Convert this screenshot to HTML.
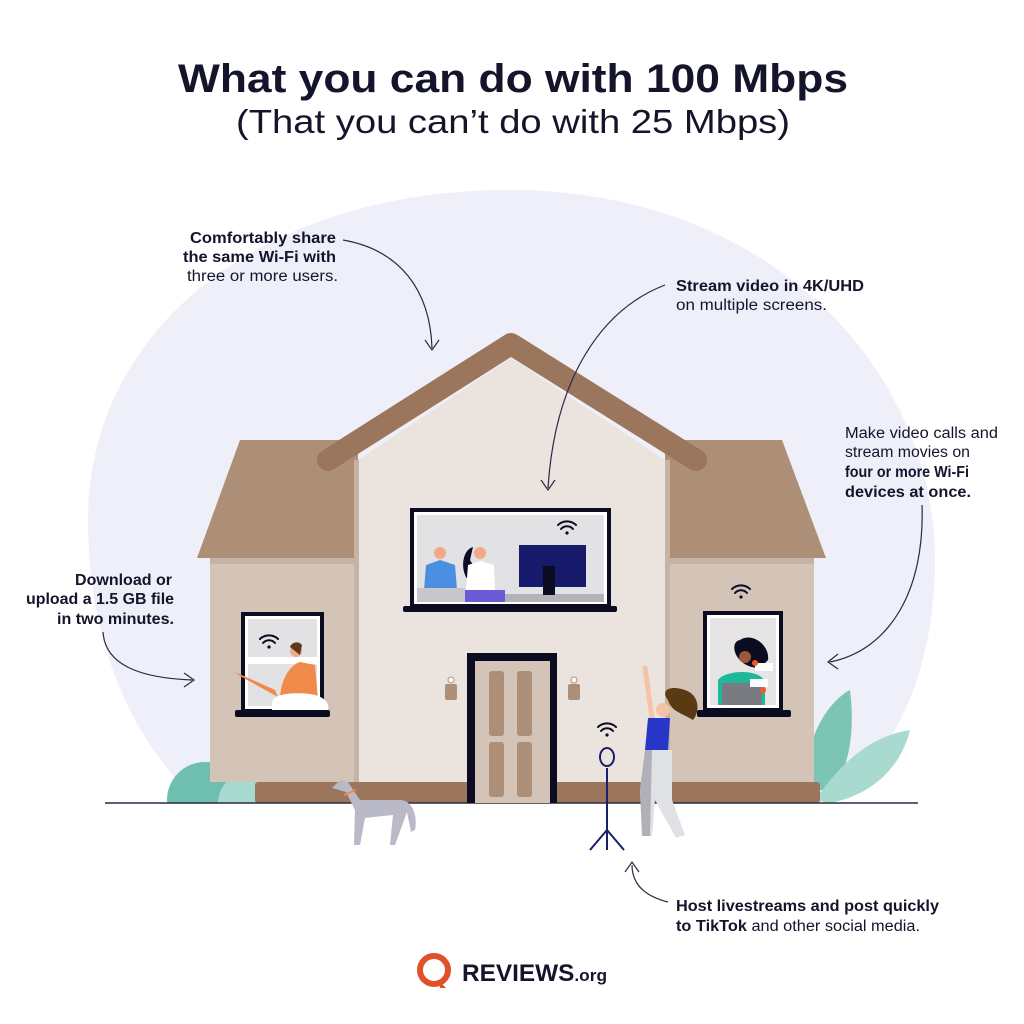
<!DOCTYPE html>
<html><head><meta charset="utf-8"><style>
html,body{margin:0;padding:0;background:#fff}
svg{display:block}
text{font-family:"Liberation Sans",sans-serif;fill:#14142b}
</style></head><body>
<svg width="1024" height="1024" viewBox="0 0 1024 1024" xmlns="http://www.w3.org/2000/svg">
<rect width="1024" height="1024" fill="#fff"/>
<path d="M510 190 C770 190 935 370 935 560 C935 690 880 770 830 803 L200 803 C130 740 88 640 88 520 C88 330 260 190 510 190 Z" fill="#efeffa"/>

<text x="178" y="92" font-size="40" font-weight="bold" textLength="670" lengthAdjust="spacingAndGlyphs">What you can do with 100 Mbps</text>
<text x="236" y="133" font-size="33" textLength="554" lengthAdjust="spacingAndGlyphs">(That you can’t do with 25 Mbps)</text>

<g font-size="15.5">
<text x="190" y="243" font-weight="bold" textLength="146" lengthAdjust="spacingAndGlyphs">Comfortably share</text>
<text x="183" y="262" font-weight="bold" textLength="153" lengthAdjust="spacingAndGlyphs">the same Wi-Fi with</text>
<text x="187" y="281" textLength="151" lengthAdjust="spacingAndGlyphs">three or more users.</text>
<text x="676" y="291" font-weight="bold" textLength="188" lengthAdjust="spacingAndGlyphs">Stream video in 4K/UHD</text>
<text x="676" y="310" textLength="151" lengthAdjust="spacingAndGlyphs">on multiple screens.</text>
<text x="845" y="438" textLength="153" lengthAdjust="spacingAndGlyphs">Make video calls and</text>
<text x="845" y="457" textLength="125" lengthAdjust="spacingAndGlyphs">stream movies on</text>
<text x="845" y="477" font-weight="bold" textLength="124" lengthAdjust="spacingAndGlyphs">four or more Wi-Fi</text>
<text x="845" y="497" font-weight="bold" textLength="126" lengthAdjust="spacingAndGlyphs">devices at once.</text>
<text x="75" y="585" font-weight="bold" textLength="97" lengthAdjust="spacingAndGlyphs">Download or</text>
<text x="26" y="604" font-weight="bold" textLength="148" lengthAdjust="spacingAndGlyphs">upload a 1.5 GB file</text>
<text x="57" y="624" font-weight="bold" textLength="117" lengthAdjust="spacingAndGlyphs">in two minutes.</text>
<text x="676" y="911" font-weight="bold" textLength="263" lengthAdjust="spacingAndGlyphs">Host livestreams and post quickly</text>
<text x="676" y="931" textLength="244" lengthAdjust="spacingAndGlyphs"><tspan font-weight="bold">to TikTok</tspan> and other social media.</text>
</g>

<!-- bushes -->
<path d="M810 790 C800 740 830 700 850 690 C855 730 850 770 830 790 Z" fill="#7cc4b4"/>
<path d="M815 800 C850 750 880 735 910 730 C900 770 870 795 830 803 Z" fill="#a8dad0"/>
<circle cx="205" cy="800" r="38" fill="#6fbfb0"/>
<circle cx="248" cy="803" r="30" fill="#a8dad0"/>
<rect x="160" y="803" width="130" height="50" fill="#fff"/>

<!-- wings -->
<polygon points="240,440 358,440 358,558 197,558" fill="#ad8f78"/>
<polygon points="665,440 782,440 826,558 665,558" fill="#ad8f78"/>
<rect x="210" y="558" width="148" height="224" fill="#d3c4b7"/>
<rect x="665" y="558" width="149" height="224" fill="#d3c4b7"/>
<rect x="210" y="558" width="148" height="6" fill="#c5b3a5"/>
<rect x="665" y="558" width="149" height="6" fill="#c5b3a5"/>
<!-- center -->
<polygon points="358,460 511,358 665,460 665,782 358,782" fill="#ebe3dd"/>
<rect x="354" y="460" width="5" height="322" fill="#c5b3a5"/>
<rect x="665" y="460" width="5" height="322" fill="#c5b3a5"/>
<polyline points="328,460 511,344 696,460" fill="none" stroke="#9b765c" stroke-width="22" stroke-linecap="round" stroke-linejoin="round"/>
<rect x="255" y="782" width="565" height="21" rx="3" fill="#9b765c"/>
<line x1="105" y1="803" x2="918" y2="803" stroke="#2a2a40" stroke-width="1.5"/>

<!-- center window -->
<rect x="410" y="508" width="201" height="99" fill="#0b0b22"/>
<rect x="414" y="512" width="193" height="92" fill="#fff"/>
<rect x="417" y="515" width="187" height="86" fill="#e2e2e4"/>
<rect x="417" y="594" width="187" height="8" fill="#b4b4b8"/>
<rect x="519" y="545" width="67" height="42" fill="#171a6b"/>
<rect x="543" y="566" width="12" height="29" fill="#0b0b22"/>
<path d="M473 547 C462 550 460 570 468 580 L482 580 L470 560 Z" fill="#0b0b22"/>
<circle cx="440" cy="553" r="6" fill="#f2a98a"/>
<path d="M424 590 L426 565 L440 560 L455 565 L457 590 Z" fill="#4a8fe0"/>
<circle cx="480" cy="553" r="6" fill="#f2a98a"/>
<path d="M466 590 L468 565 L481 561 L494 565 L495 590 Z" fill="#fff"/>
<rect x="417" y="588" width="48" height="14" fill="#c8c8cc"/>
<rect x="465" y="590" width="40" height="12" fill="#6b5bd6"/>
<rect x="403" y="606" width="214" height="6" rx="2" fill="#0b0b22"/>
<g fill="none" stroke="#0b0b22" stroke-width="2" stroke-linecap="round"><path d="M558 525 a13 13 0 0 1 18 0"/><path d="M561 529 a8 8 0 0 1 12 0"/></g><circle cx="567" cy="533" r="1.6" fill="#0b0b22"/>

<!-- left window -->
<rect x="241" y="612" width="83" height="101" fill="#0b0b22"/>
<rect x="245" y="616" width="75" height="93" fill="#fff"/>
<rect x="248" y="619" width="69" height="38" fill="#e2e2e4"/>
<rect x="248" y="664" width="69" height="42" fill="#e2e2e4"/>
<path d="M280 700 C280 680 290 665 300 662 L315 665 L318 700 Z" fill="#f08a4b"/>
<path d="M235 672 L275 690 L278 697 L240 676 Z" fill="#f08a4b"/>
<circle cx="296" cy="651" r="6" fill="#f2a98a"/>
<path d="M290 647 a7 7 0 0 1 12 -2 L300 655 Z" fill="#5a3a1a"/>
<path d="M272 704 C272 694 290 692 310 694 C325 696 330 704 328 710 L272 710 Z" fill="#fff"/>
<rect x="235" y="710" width="95" height="7" rx="2" fill="#0b0b22"/>
<g fill="none" stroke="#0b0b22" stroke-width="2" stroke-linecap="round"><path d="M260 639 a13 13 0 0 1 18 0"/><path d="M263 643 a8 8 0 0 1 12 0"/></g><circle cx="269" cy="647" r="1.6" fill="#0b0b22"/>

<!-- right window -->
<rect x="703" y="611" width="80" height="101" fill="#0b0b22"/>
<rect x="707" y="615" width="72" height="93" fill="#fff"/>
<rect x="710" y="618" width="66" height="87" fill="#e6e4e4"/>
<path d="M740 640 C728 642 735 668 760 668 L768 660 C770 645 752 632 740 640 Z" fill="#0b0b22"/>
<circle cx="745" cy="657" r="6" fill="#9a5a3a"/>
<path d="M718 705 L718 680 C725 670 760 668 765 682 L765 705 Z" fill="#1db99a"/>
<rect x="722" y="683" width="40" height="22" fill="#7a7a82"/>
<rect x="755" y="663" width="18" height="8" fill="#fff"/><rect x="750" y="679" width="18" height="8" fill="#fff"/>
<circle cx="755" cy="663" r="3" fill="#f05a28"/><circle cx="763" cy="690" r="3" fill="#f05a28"/>
<rect x="697" y="710" width="94" height="7" rx="2" fill="#0b0b22"/>
<g fill="none" stroke="#0b0b22" stroke-width="2" stroke-linecap="round"><path d="M732 589 a13 13 0 0 1 18 0"/><path d="M735 593 a8 8 0 0 1 12 0"/></g><circle cx="741" cy="597" r="1.6" fill="#0b0b22"/>

<!-- door -->
<rect x="467" y="653" width="90" height="150" fill="#0b0b22"/>
<rect x="475" y="661" width="75" height="142" fill="#d3c4b7"/>
<rect x="489" y="671" width="15" height="65" rx="3" fill="#ad8f78"/>
<rect x="517" y="671" width="15" height="65" rx="3" fill="#ad8f78"/>
<rect x="489" y="742" width="15" height="55" rx="3" fill="#ad8f78"/>
<rect x="517" y="742" width="15" height="55" rx="3" fill="#ad8f78"/>
<!-- lamps -->
<g fill="#ad8f78"><rect x="445" y="684" width="12" height="16" rx="2"/><rect x="568" y="684" width="12" height="16" rx="2"/></g>
<circle cx="451" cy="680" r="3" fill="#fff" stroke="#ad8f78"/><circle cx="574" cy="680" r="3" fill="#fff" stroke="#ad8f78"/>

<!-- tripod -->
<g stroke="#1a1f6b" stroke-width="2" fill="none">
<ellipse cx="607" cy="757" rx="7" ry="9"/>
<line x1="607" y1="768" x2="607" y2="830"/>
<line x1="607" y1="830" x2="590" y2="850"/><line x1="607" y1="830" x2="624" y2="850"/><line x1="607" y1="830" x2="607" y2="850"/>
</g>
<g fill="none" stroke="#0b0b22" stroke-width="2" stroke-linecap="round"><path d="M598 727 a13 13 0 0 1 18 0"/><path d="M601 731 a8 8 0 0 1 12 0"/></g><circle cx="607" cy="735" r="1.6" fill="#0b0b22"/>

<!-- woman -->
<path d="M668 700 C660 690 670 685 685 690 C700 695 700 712 693 720 C680 712 672 712 668 700 Z" fill="#5a3a12"/>
<circle cx="663" cy="710" r="7" fill="#f5c3a8"/>
<line x1="645" y1="668" x2="652" y2="718" stroke="#f5c3a8" stroke-width="5" stroke-linecap="round"/>
<path d="M648 718 L670 718 L668 750 L645 750 Z" fill="#2836c8"/>
<path d="M645 750 L672 750 L672 800 L685 835 L676 838 L655 800 L652 836 L642 836 L640 790 Z" fill="#e0e1e5"/>
<path d="M645 750 L652 750 L650 836 L642 836 L640 790 Z" fill="#b0b0b8"/>

<!-- dog -->
<path d="M340 780 L348 782 L360 800 L400 800 C412 800 418 815 415 830 L411 832 L407 812 L395 845 L390 845 L393 815 L365 818 L360 845 L354 845 L355 810 L346 792 L332 788 Z" fill="#b9b9c8"/>
<path d="M344 795 L356 790" stroke="#f08a4b" stroke-width="2"/>

<!-- arrows on top -->
<g fill="none" stroke="#2a2a40" stroke-width="1.2">
<path d="M343 240 C400 250 430 290 432 348"/><path d="M425 340 L432 350 L439 340"/>
<path d="M665 285 C600 310 555 380 548 488"/><path d="M541 480 L548 490 L555 480"/>
<path d="M922 505 C925 590 890 650 830 662"/><path d="M838 654 L828 662 L838 669"/>
<path d="M103 632 C105 665 140 678 192 680"/><path d="M184 673 L194 680 L184 687"/>
<path d="M668 902 C640 895 632 880 632 865"/><path d="M625 872 L632 862 L639 872"/>
</g>

<!-- logo -->
<circle cx="434" cy="970" r="14" fill="none" stroke="#e0502a" stroke-width="6"/>
<path d="M438 980 L446 988 L440 988 Z" fill="#e0502a"/>
<text x="462" y="981" font-size="24" font-weight="bold" textLength="145" lengthAdjust="spacingAndGlyphs">REVIEWS<tspan font-size="17">.org</tspan></text>
</svg>
</body></html>
